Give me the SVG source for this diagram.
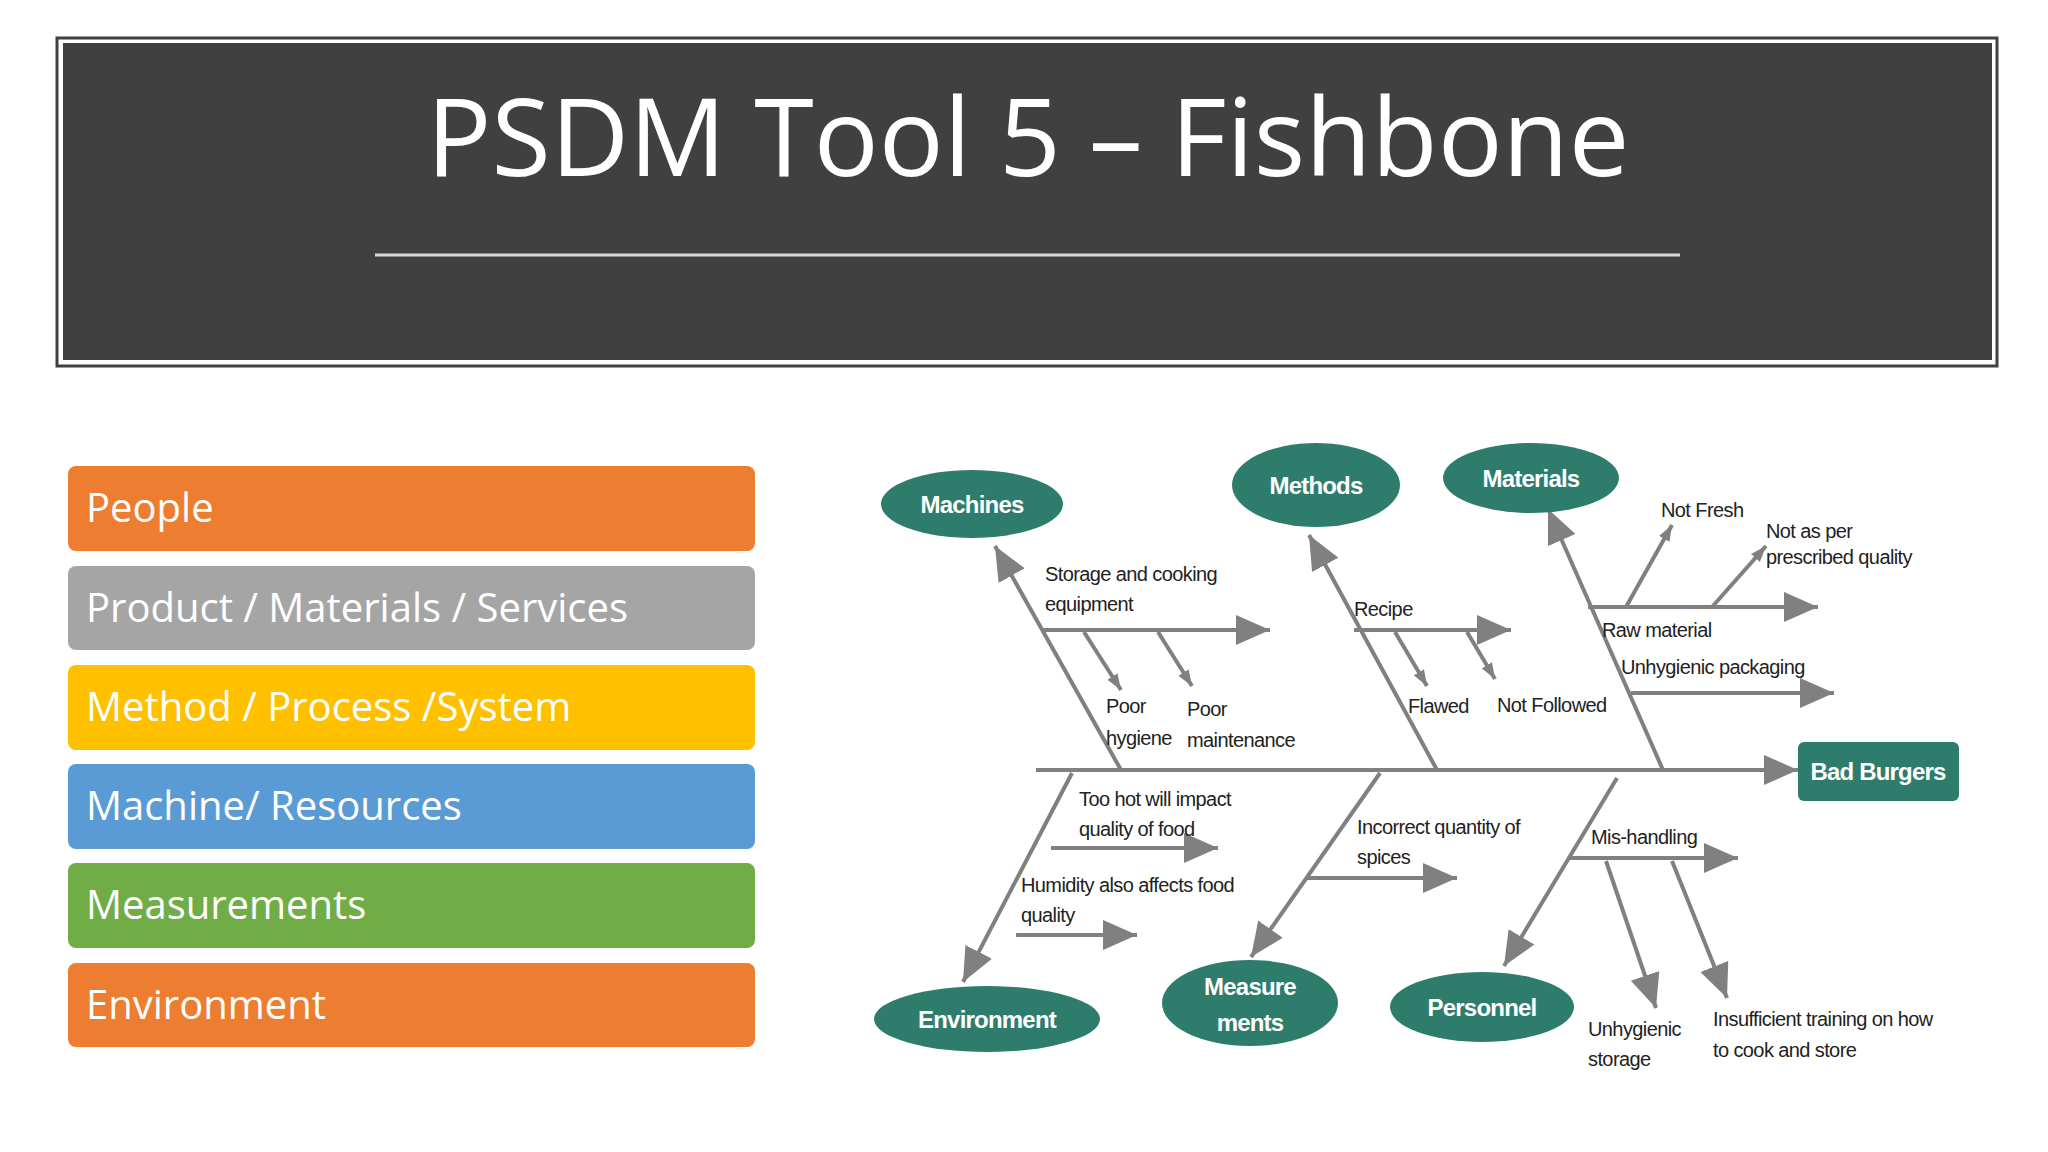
<svg xmlns="http://www.w3.org/2000/svg" width="2048" height="1152" viewBox="0 0 2048 1152">
<style>
.cat{font-family:"Open Sans","Liberation Sans",sans-serif;font-size:40px;fill:#fff}
.lbl{font-family:"Liberation Sans",Arial,sans-serif;font-size:20px;fill:#222;letter-spacing:-0.6px}
.nd{fill:#2E7D6C}
.nt{font-family:"Liberation Sans",Arial,sans-serif;font-size:24px;font-weight:bold;fill:#fff;text-anchor:middle;letter-spacing:-0.8px}
.b{stroke:#808080;stroke-width:4;fill:none}
.big{marker-end:url(#mb)}
.sm{marker-end:url(#ms)}
</style>
<defs>
<marker id="mb" markerUnits="userSpaceOnUse" markerWidth="36" markerHeight="32" refX="34" refY="15" orient="auto"><path d="M0,0 L34,15 L0,30 Z" fill="#808080"/></marker>
<marker id="ms" markerUnits="userSpaceOnUse" markerWidth="18" markerHeight="14" refX="16" refY="6" orient="auto"><path d="M0,0 L16,6 L0,12 Z" fill="#808080"/></marker>
</defs>
<rect width="2048" height="1152" fill="#fff"/>
<g id="title">
<rect x="57" y="38" width="1940" height="328" fill="none" stroke="#404040" stroke-width="3"/>
<rect x="63" y="43" width="1929" height="317" fill="#404040"/>
<text x="1028" y="176" text-anchor="middle" font-family="Open Sans,Liberation Sans,sans-serif" font-size="108" fill="#fff">PSDM Tool 5 – Fishbone</text>
<line x1="375" y1="255" x2="1680" y2="255" stroke="#d9d9d9" stroke-width="3"/>
</g>
<g id="categories">
<rect x="68" y="466" width="687" height="85" rx="8" fill="#ED7D31"/><text class="cat" x="86" y="522">People</text>
<rect x="68" y="566" width="687" height="84" rx="8" fill="#A5A5A5"/><text class="cat" x="86" y="622">Product / Materials / Services</text>
<rect x="68" y="665" width="687" height="85" rx="8" fill="#FFC000"/><text class="cat" x="86" y="721">Method / Process /System</text>
<rect x="68" y="764" width="687" height="85" rx="8" fill="#5B9BD5"/><text class="cat" x="86" y="820">Machine/ Resources</text>
<rect x="68" y="863" width="687" height="85" rx="8" fill="#70AD47"/><text class="cat" x="86" y="919">Measurements</text>
<rect x="68" y="963" width="687" height="84" rx="8" fill="#ED7D31"/><text class="cat" x="86" y="1019">Environment</text>
</g>
<g id="connectors">
<line class="b big" x1="1036" y1="770" x2="1798" y2="770"/>
<line class="b big" x1="1121" y1="770" x2="995" y2="546"/>
<line class="b big" x1="1041" y1="630" x2="1270" y2="630"/>
<line class="b sm" x1="1084" y1="632" x2="1121" y2="690"/>
<line class="b sm" x1="1158" y1="632" x2="1192" y2="686"/>
<line class="b big" x1="1437" y1="770" x2="1309" y2="535"/>
<line class="b big" x1="1354" y1="630" x2="1511" y2="630"/>
<line class="b sm" x1="1395" y1="632" x2="1427" y2="686"/>
<line class="b sm" x1="1467" y1="632" x2="1495" y2="679"/>
<line class="b big" x1="1663" y1="770" x2="1548" y2="509"/>
<line class="b big" x1="1588" y1="607" x2="1818" y2="607"/>
<line class="b sm" x1="1626" y1="607" x2="1672" y2="525"/>
<line class="b sm" x1="1712" y1="607" x2="1766" y2="546"/>
<line class="b big" x1="1631" y1="693" x2="1834" y2="693"/>
<line class="b big" x1="1072" y1="773" x2="963" y2="982"/>
<line class="b big" x1="1051" y1="848" x2="1218" y2="848"/>
<line class="b big" x1="1016" y1="935" x2="1137" y2="935"/>
<line class="b big" x1="1380" y1="773" x2="1251" y2="957"/>
<line class="b big" x1="1306" y1="878" x2="1457" y2="878"/>
<line class="b big" x1="1617" y1="778" x2="1504" y2="966"/>
<line class="b big" x1="1568" y1="858" x2="1738" y2="858"/>
<line class="b big" x1="1606" y1="861" x2="1656" y2="1008"/>
<line class="b big" x1="1672" y1="861" x2="1727" y2="998"/>
</g>
<g id="labels">
<text class="lbl" x="1045" y="581">Storage and cooking</text>
<text class="lbl" x="1045" y="611">equipment</text>
<text class="lbl" x="1106" y="713">Poor</text><text class="lbl" x="1106" y="745">hygiene</text>
<text class="lbl" x="1187" y="716">Poor</text><text class="lbl" x="1187" y="747">maintenance</text>
<text class="lbl" x="1354" y="616">Recipe</text>
<text class="lbl" x="1408" y="713">Flawed</text>
<text class="lbl" x="1497" y="712">Not Followed</text>
<text class="lbl" x="1661" y="517">Not Fresh</text>
<text class="lbl" x="1766" y="538">Not as per</text>
<text class="lbl" x="1766" y="564">prescribed quality</text>
<text class="lbl" x="1602" y="637">Raw material</text>
<text class="lbl" x="1621" y="674">Unhygienic packaging</text>
<text class="lbl" x="1079" y="806">Too hot will impact</text>
<text class="lbl" x="1079" y="836">quality of food</text>
<text class="lbl" x="1021" y="892">Humidity also affects food</text>
<text class="lbl" x="1021" y="922">quality</text>
<text class="lbl" x="1357" y="834">Incorrect quantity of</text>
<text class="lbl" x="1357" y="864">spices</text>
<text class="lbl" x="1591" y="844">Mis-handling</text>
<text class="lbl" x="1588" y="1036">Unhygienic</text>
<text class="lbl" x="1588" y="1066">storage</text>
<text class="lbl" x="1713" y="1026">Insufficient training on how</text>
<text class="lbl" x="1713" y="1057">to cook and store</text>
</g>
<g id="machines"><ellipse class="nd" cx="972" cy="504" rx="91" ry="34"/><text class="nt" x="972" y="513">Machines</text></g>
<g id="methods"><ellipse class="nd" cx="1316" cy="485" rx="84" ry="42"/><text class="nt" x="1316" y="494">Methods</text></g>
<g id="materials"><ellipse class="nd" cx="1531" cy="478" rx="88" ry="35"/><text class="nt" x="1531" y="487">Materials</text></g>
<g id="environment"><ellipse class="nd" cx="987" cy="1019" rx="113" ry="33"/><text class="nt" x="987" y="1028">Environment</text></g>
<g id="measurements"><ellipse class="nd" cx="1250" cy="1003" rx="88" ry="43"/><text class="nt" x="1250" y="995">Measure</text><text class="nt" x="1250" y="1031">ments</text></g>
<g id="personnel"><ellipse class="nd" cx="1482" cy="1007" rx="92" ry="35"/><text class="nt" x="1482" y="1016">Personnel</text></g>
<g id="bad-burgers"><rect class="nd" x="1798" y="742" width="161" height="59" rx="6"/><text class="nt" x="1878" y="780">Bad Burgers</text></g>
</svg>
